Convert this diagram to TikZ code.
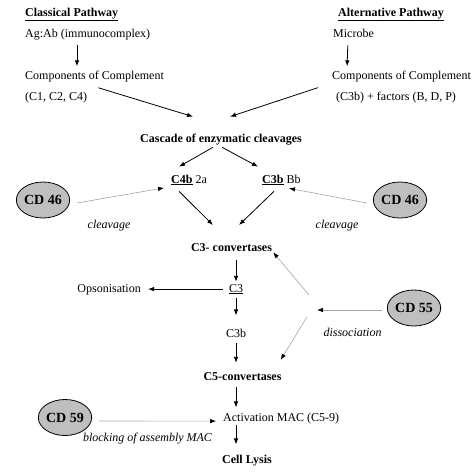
\documentclass[tikz,border=0pt]{standalone}
\usepackage{fontspec}
\setmainfont{Liberation Serif}
\usetikzlibrary{arrows.meta,shapes.geometric}

\begin{document}
\begin{tikzpicture}
[   x=1pt,y=-1pt,
    txt/.style={inner sep=1pt,font=\fontsize{12}{14}\selectfont},
    btxt/.style={inner sep=1pt,font=\fontsize{12}{14}\selectfont\bfseries},
    itxt/.style={inner sep=1pt,font=\fontsize{12}{14}\selectfont\itshape},
    cdnode/.style={draw=black,line width=0.8pt,fill=gray!50,ellipse,minimum width=52pt,minimum height=36pt,inner sep=0pt,font=\fontsize{14}{16}\selectfont\bfseries},
    arr/.style={-{Latex[length=6pt,width=4.5pt]},line width=0.8pt,black},
    garr/.style={-{Latex[length=6pt,width=4.5pt,black]},line width=0.6pt,draw=gray!70},
]
    \useasboundingbox (0,0) rectangle (474,474);
    \node[btxt,anchor=base west] (classic) at (24,16.5) {\underline{Classical Pathway}};
    \node[txt,anchor=base west] (agab) at (24,37) {Ag:Ab (immunocomplex)};
    \node[txt,anchor=base west] (compL) at (24,79) {Components of Complement};
    \node[txt,anchor=base west] (compLb) at (24,100) {(C1, C2, C4)};
    \node[btxt,anchor=base west] (altern) at (337,16.5) {\underline{Alternative Pathway}};
    \node[txt,anchor=base west] (microbe) at (332,37) {Microbe};
    \node[txt,anchor=base west] (compR) at (331,79) {Components of Complement};
    \node[txt,anchor=base west] (compRb) at (335,100) {(C3b) + factors (B, D, P)};
    \node[btxt,anchor=base] (cascade) at (221,142) {Cascade of enzymatic cleavages};
    \node[txt,anchor=base west] (c4b) at (170,183) {\textbf{\underline{C4b}} 2a};
    \node[txt,anchor=base west] (c3bb) at (261,183) {\textbf{\underline{C3b}} Bb};
    \node[btxt,anchor=base] (conv3) at (231.5,251) {C3- convertases};
    \node[txt,anchor=base] (c3) at (236,292) {\underline{C3}};
    \node[txt,anchor=base east] (opso) at (142,292) {Opsonisation};
    \node[txt,anchor=base] (c3b) at (236,337) {C3b};
    \node[btxt,anchor=base] (conv5) at (242.5,380) {C5-convertases};
    \node[txt,anchor=base west] (mac) at (222,421) {Activation MAC (C5-9)};
    \node[btxt,anchor=base] (lysis) at (247,463) {Cell Lysis};

    \node[cdnode] (cd46l) at (43,200) {CD 46};
    \node[cdnode] (cd46r) at (400,200) {CD 46};
    \node[cdnode] (cd55) at (414,308) {CD 55};
    \node[cdnode] (cd59) at (65,417.5) {CD 59};
    \node[itxt,anchor=base] (cleavL) at (109,228) {cleavage};
    \node[itxt,anchor=base] (cleavR) at (337,228) {cleavage};
    \node[itxt,anchor=base] (dissoc) at (352.5,336) {dissociation};
    \node[itxt,anchor=base] (block) at (147.5,441) {blocking of assembly MAC};
    \coordinate (hub) at (311,308);

    \draw[arr,shorten <=4pt,shorten >=3pt] ([xshift=53pt]agab.south west) -- ([xshift=53pt]compL.north west);
    \draw[arr,shorten <=7pt,shorten >=3pt] ([xshift=16pt]microbe.south west) -- ([xshift=16pt]compR.north west);
    \draw[arr] ([shift={(10,-2.7)}]compLb.north east) -- ([shift={(-28,-15.7)}]cascade.north);
    \draw[arr] ([shift={(-17,-2.7)}]compRb.north west) -- ([shift={(9,-15.7)}]cascade.north);
    \draw[arr] ([shift={(-8,1.4)}]cascade.south) -- ([shift={(9,-6.8)}]c4b.north west);
    \draw[arr] ([shift={(1,1.4)}]cascade.south) -- ([shift={(-3,-6.8)}]c3bb.north west);
    \draw[arr] ([shift={(9,5)}]c4b.south west) -- ([shift={(-18.5,-16.8)}]conv3.north);
    \draw[arr] ([shift={(13,5)}]c3bb.south west) -- ([shift={(7.5,-16.8)}]conv3.north);
    \draw[garr] ([shift={(7,3)}]cd46l.east) -- ([shift={(-6,8)}]c4b.west);
    \draw[garr] ([shift={(-6,3)}]cd46r.west) -- ([shift={(28,2)}]c3bb.south west);
    \foreach \a/\b/\s/\e in {conv3/c3/8/1,c3/c3b/3/12,c3b/conv5/5/8,conv5/mac/6/4,mac/lysis/0/9}
    {   \draw[arr,shorten <=\s pt,shorten >=\e pt] (\a.south -| c3) -- (\b.north -| c3);
    }
    \draw[arr,shorten <=5pt,shorten >=6pt] (c3.west) -- (c3.west -| opso.east);
    \draw[garr] ([shift={(7,3.5)}]cd59.east) -- ([shift={(-6,3)}]mac.west);
    \draw[garr] ([shift={(-5,2)}]cd55.west) -- ([shift={(6,2)}]hub);
    \draw[garr] ([shift={(-2,-13)}]hub) -- (conv3.south east);
    \draw[garr] ([shift={(-4,9)}]hub) -- ([shift={(-2,-11)}]conv5.north east);
\end{tikzpicture}
\end{document}
